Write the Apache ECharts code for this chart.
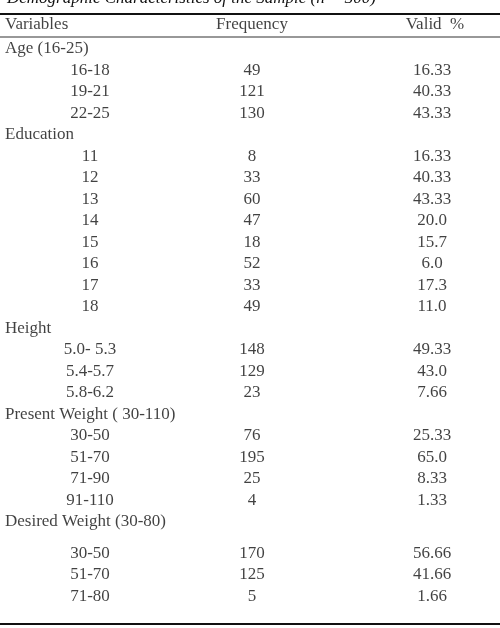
<!DOCTYPE html>
<html><head><meta charset="utf-8">
<script src="https://cdn.jsdelivr.net/npm/echarts@6/dist/echarts.min.js"></script>
<style>html,body{margin:0;padding:0;background:#fff}#c{width:500px;height:628px}</style>
</head><body><div id="c"></div>
<script>
const title = 'Demographic Characteristics of the Sample (n = 300)';
const headers = ['Variables', 'Frequency', 'Valid  %'];
const sections = ['Age (16-25)', 'Education', 'Height', 'Present Weight ( 30-110)', 'Desired Weight (30-80)'];
const ageCats = ['16-18', '19-21', '22-25'];
const ageFreq = [49, 121, 130];
const agePct = ['16.33', '40.33', '43.33'];
const eduCats = ['11', '12', '13', '14', '15', '16', '17', '18'];
const eduFreq = [8, 33, 60, 47, 18, 52, 33, 49];
const eduPct = ['16.33', '40.33', '43.33', '20.0', '15.7', '6.0', '17.3', '11.0'];
const heightCats = ['5.0- 5.3', '5.4-5.7', '5.8-6.2'];
const heightFreq = [148, 129, 23];
const heightPct = ['49.33', '43.0', '7.66'];
const pwCats = ['30-50', '51-70', '71-90', '91-110'];
const pwFreq = [76, 195, 25, 4];
const pwPct = ['25.33', '65.0', '8.33', '1.33'];
const dwCats = ['30-50', '51-70', '71-80'];
const dwFreq = [170, 125, 5];
const dwPct = ['56.66', '41.66', '1.66'];

const groups = [
  [ageCats, ageFreq, agePct], [eduCats, eduFreq, eduPct], [heightCats, heightFreq, heightPct],
  [pwCats, pwFreq, pwPct], [dwCats, dwFreq, dwPct]
];
const X_VAR = 5, X_SUB = 90, X_FREQ = 252, X_PCT = 432;
const secPts = [], subPts = [], freqPts = [], pctPts = [], headPts = [];
headPts.push({value: [X_VAR, -0.16], name: headers[0], label: {align: 'left'}});
headPts.push({value: [X_FREQ, -0.16], name: headers[1]});
headPts.push({value: [435, -0.16], name: headers[2]});
let r = 1;
groups.forEach((g, gi) => {
  secPts.push({value: [X_VAR, r], name: sections[gi]});
  r += 1;
  if (gi === 4) r += 0.45;
  g[0].forEach((c, i) => {
    subPts.push({value: [X_SUB, r], name: c});
    freqPts.push({value: [X_FREQ, r], name: String(g[1][i])});
    pctPts.push({value: [X_PCT, r], name: g[2][i]});
    r += 1;
  });
});
const font = {fontFamily: 'Liberation Serif', fontSize: 17, color: '#111'};
function ser(data, align) {
  return {type: 'scatter', symbolSize: 0, data,
    label: {show: true, position: 'inside', formatter: p => p.name, align: align, ...font}};
}
const chart = echarts.init(document.getElementById('c'));
chart.setOption({
  animation: false,
  grid: {left: 0, right: 0, top: 0, bottom: 0},
  xAxis: {type: 'value', min: 0, max: 500, show: false},
  yAxis: {type: 'value', min: -1.279, max: 27.93, inverse: true, show: false},
  series: [ser(headPts, 'center'), ser(secPts, 'left'), ser(subPts, 'center'), ser(freqPts, 'center'), ser(pctPts, 'center')],
  graphic: [
    {type: 'text', left: 7, top: -10, style: {text: title, font: 'italic 17px "Liberation Serif"', fill: '#111'}},
    {type: 'rect', shape: {x: 0, y: 13, width: 500, height: 2}, style: {fill: '#111'}},
    {type: 'rect', shape: {x: 0, y: 36.5, width: 500, height: 1}, style: {fill: '#333'}},
    {type: 'rect', shape: {x: 0, y: 623, width: 500, height: 2}, style: {fill: '#111'}}
  ]
});
</script></body></html>
